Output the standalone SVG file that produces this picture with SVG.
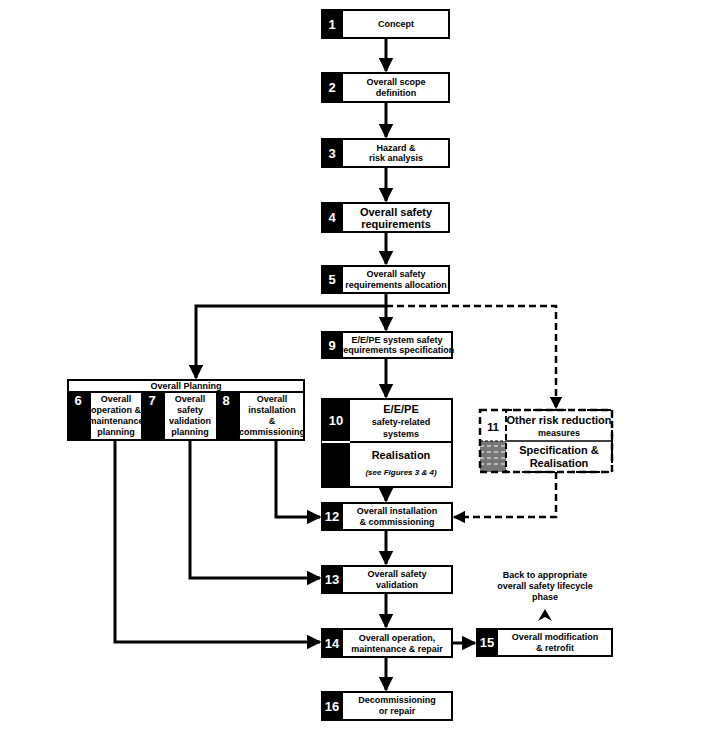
<svg xmlns="http://www.w3.org/2000/svg" width="712" height="738" viewBox="0 0 712 738">
<style>
text{font-family:"Liberation Sans",Arial,sans-serif;font-weight:bold;fill:#000}
.t{font-size:9px;text-anchor:middle}
.t4{font-size:11px;text-anchor:middle}
.n{font-size:13px;fill:#fff;text-anchor:middle}
.b{fill:#fff;stroke:#000;stroke-width:2}
.k{fill:#000}
.c{fill:none;stroke:#000;stroke-width:3}
.cd{fill:none;stroke:#000;stroke-width:2.5;stroke-dasharray:7,4}
</style>
<defs>
<marker id="a" markerWidth="5" markerHeight="5" refX="4.5" refY="2.5" orient="auto" markerUnits="strokeWidth"><path d="M0,0L5,2.5L0,5z" fill="#000"/></marker>
<marker id="ad" markerWidth="5" markerHeight="5" refX="4.5" refY="2.5" orient="auto" markerUnits="strokeWidth"><path d="M0,0L5,2.5L0,5z" fill="#000"/></marker>
</defs>
<rect width="712" height="738" fill="#fff"/>
<g id="connectors">
<path class="c" d="M386,38V71" marker-end="url(#a)"/>
<path class="c" d="M386,102V137" marker-end="url(#a)"/>
<path class="c" d="M386,167V201" marker-end="url(#a)"/>
<path class="c" d="M386,232V264" marker-end="url(#a)"/>
<path class="c" d="M386,293V330" marker-end="url(#a)"/>
<path class="c" d="M386,306H196V378" marker-end="url(#a)"/>
<path class="cd" d="M386,306H556V408" marker-end="url(#ad)"/>
<path class="c" d="M386,358V397" marker-end="url(#a)"/>
<path class="c" d="M386,487V501" marker-end="url(#a)"/>
<path class="cd" d="M556,472V517H454" marker-end="url(#ad)"/>
<path class="c" d="M386,530V564" marker-end="url(#a)"/>
<path class="c" d="M386,593V627" marker-end="url(#a)"/>
<path class="c" d="M386,657V690" marker-end="url(#a)"/>
<path class="c" d="M452,643H475" marker-end="url(#a)"/>
<path class="c" d="M276,440V517H320" marker-end="url(#a)"/>
<path class="c" d="M190,440V578H320" marker-end="url(#a)"/>
<path class="c" d="M115,440V642H320" marker-end="url(#a)"/>
<path d="M538,621L545,609L552,621L545,617z" fill="#000"/>
</g>
<g id="n1"><rect class="b" x="322" y="10" width="127" height="28"/><rect class="k" x="322" y="10" width="21" height="28"/><text class="n" x="332" y="29">1</text><text class="t" x="396" y="27">Concept</text></g>
<g id="n2"><rect class="b" x="322" y="73" width="127" height="29"/><rect class="k" x="322" y="73" width="21" height="29"/><text class="n" x="332" y="92">2</text><text class="t" x="396" y="85">Overall scope</text><text class="t" x="396" y="96">definition</text></g>
<g id="n3"><rect class="b" x="322" y="139" width="127" height="28"/><rect class="k" x="322" y="139" width="21" height="28"/><text class="n" x="332" y="158">3</text><text class="t" x="396" y="151">Hazard &amp;</text><text class="t" x="396" y="161">risk analysis</text></g>
<g id="n4"><rect class="b" x="322" y="203" width="127" height="29"/><rect class="k" x="322" y="203" width="21" height="29"/><text class="n" x="332" y="222">4</text><text class="t4" x="396" y="216">Overall safety</text><text class="t4" x="396" y="228">requirements</text></g>
<g id="n5"><rect class="b" x="322" y="266" width="127" height="27"/><rect class="k" x="322" y="266" width="21" height="27"/><text class="n" x="332" y="284">5</text><text class="t" x="396" y="277">Overall safety</text><text class="t" x="396" y="288">requirements allocation</text></g>
<g id="n9"><rect class="b" x="322" y="332" width="130" height="26"/><rect class="k" x="322" y="332" width="21" height="26"/><text class="n" x="332" y="350">9</text><text class="t" x="397" y="343">E/E/PE system safety</text><text class="t" x="397" y="353">requirements specification</text></g>
<g id="planning"><rect class="b" x="68" y="380" width="236" height="60"/><line x1="68" y1="392" x2="304" y2="392" stroke="#000" stroke-width="2"/><text class="t" x="186" y="389">Overall Planning</text>
<rect class="k" x="68" y="392" width="23" height="48"/><rect class="k" x="141" y="392" width="24" height="48"/><rect class="k" x="216" y="392" width="24" height="48"/>
<text class="n" x="78" y="405">6</text><text class="n" x="152" y="405">7</text><text class="n" x="226" y="405">8</text>
<text class="t" x="116" y="402">Overall</text><text class="t" x="116" y="413">operation &amp;</text><text class="t" x="116" y="424">maintenance</text><text class="t" x="116" y="435">planning</text>
<text class="t" x="190" y="402">Overall</text><text class="t" x="190" y="413">safety</text><text class="t" x="190" y="424">validation</text><text class="t" x="190" y="435">planning</text>
<text class="t" x="272" y="402">Overall</text><text class="t" x="272" y="413">installation</text><text class="t" x="272" y="424">&amp;</text><text class="t" x="272" y="435">commissioning</text></g>
<g id="n10"><rect class="b" x="322" y="399" width="130" height="88"/><rect class="k" x="322" y="399" width="28" height="88"/><line x1="322" y1="442" x2="452" y2="442" stroke="#fff" stroke-width="2"/><line x1="350" y1="442" x2="452" y2="442" stroke="#000" stroke-width="2"/><text class="n" x="336" y="425">10</text>
<text class="t4" x="401" y="413">E/E/PE</text><text class="t" x="401" y="425">safety-related</text><text class="t" x="401" y="437">systems</text><text class="t4" x="401" y="459">Realisation</text><text x="401" y="475" style="font-size:8px;font-style:italic;text-anchor:middle">(see Figures 3 &amp; 4)</text></g>
<g id="n11"><rect x="480" y="441" width="26" height="31" fill="#777"/><path d="M480,446H506M480,452H506M480,458H506M480,464H506" stroke="#fff" stroke-dasharray="4,3"/><rect class="cd" x="480" y="410" width="132" height="62" fill="none" stroke-width="2"/><rect x="506" y="410" width="106" height="62" fill="none" stroke="#000" stroke-width="2" stroke-dasharray="6,3"/><line x1="506" y1="441" x2="612" y2="441" stroke="#000" stroke-width="1.5"/><line x1="480" y1="441" x2="506" y2="441" stroke="#000" stroke-width="1" stroke-dasharray="3,2"/>
<text x="493" y="431" style="font-size:11px;text-anchor:middle">11</text><text class="t4" x="559" y="424">Other risk reduction</text><text class="t" x="559" y="436">measures</text><text class="t4" x="559" y="454">Specification &amp;</text><text class="t4" x="559" y="467">Realisation</text></g>
<g id="n12"><rect class="b" x="322" y="503" width="130" height="27"/><rect class="k" x="322" y="503" width="21" height="27"/><text class="n" x="332" y="521">12</text><text class="t" x="397" y="514">Overall installation</text><text class="t" x="397" y="525">&amp; commissioning</text></g>
<g id="n13"><rect class="b" x="322" y="566" width="130" height="27"/><rect class="k" x="322" y="566" width="21" height="27"/><text class="n" x="332" y="584">13</text><text class="t" x="397" y="577">Overall safety</text><text class="t" x="397" y="588">validation</text></g>
<g id="n14"><rect class="b" x="322" y="629" width="130" height="28"/><rect class="k" x="322" y="629" width="21" height="28"/><text class="n" x="332" y="648">14</text><text class="t" x="397" y="641">Overall operation,</text><text class="t" x="397" y="652">maintenance &amp; repair</text></g>
<g id="n15"><rect class="b" x="477" y="629" width="135" height="27"/><rect class="k" x="477" y="629" width="21" height="27"/><text class="n" x="487" y="647">15</text><text class="t" x="555" y="640">Overall modification</text><text class="t" x="555" y="651">&amp; retrofit</text></g>
<g id="n16"><rect class="b" x="322" y="692" width="130" height="28"/><rect class="k" x="322" y="692" width="21" height="28"/><text class="n" x="332" y="711">16</text><text class="t" x="397" y="703">Decommissioning</text><text class="t" x="397" y="714">or repair</text></g>
<g id="back"><text class="t" x="545" y="578">Back to appropriate</text><text class="t" x="545" y="589">overall safety lifecycle</text><text class="t" x="545" y="600">phase</text></g>
</svg>
